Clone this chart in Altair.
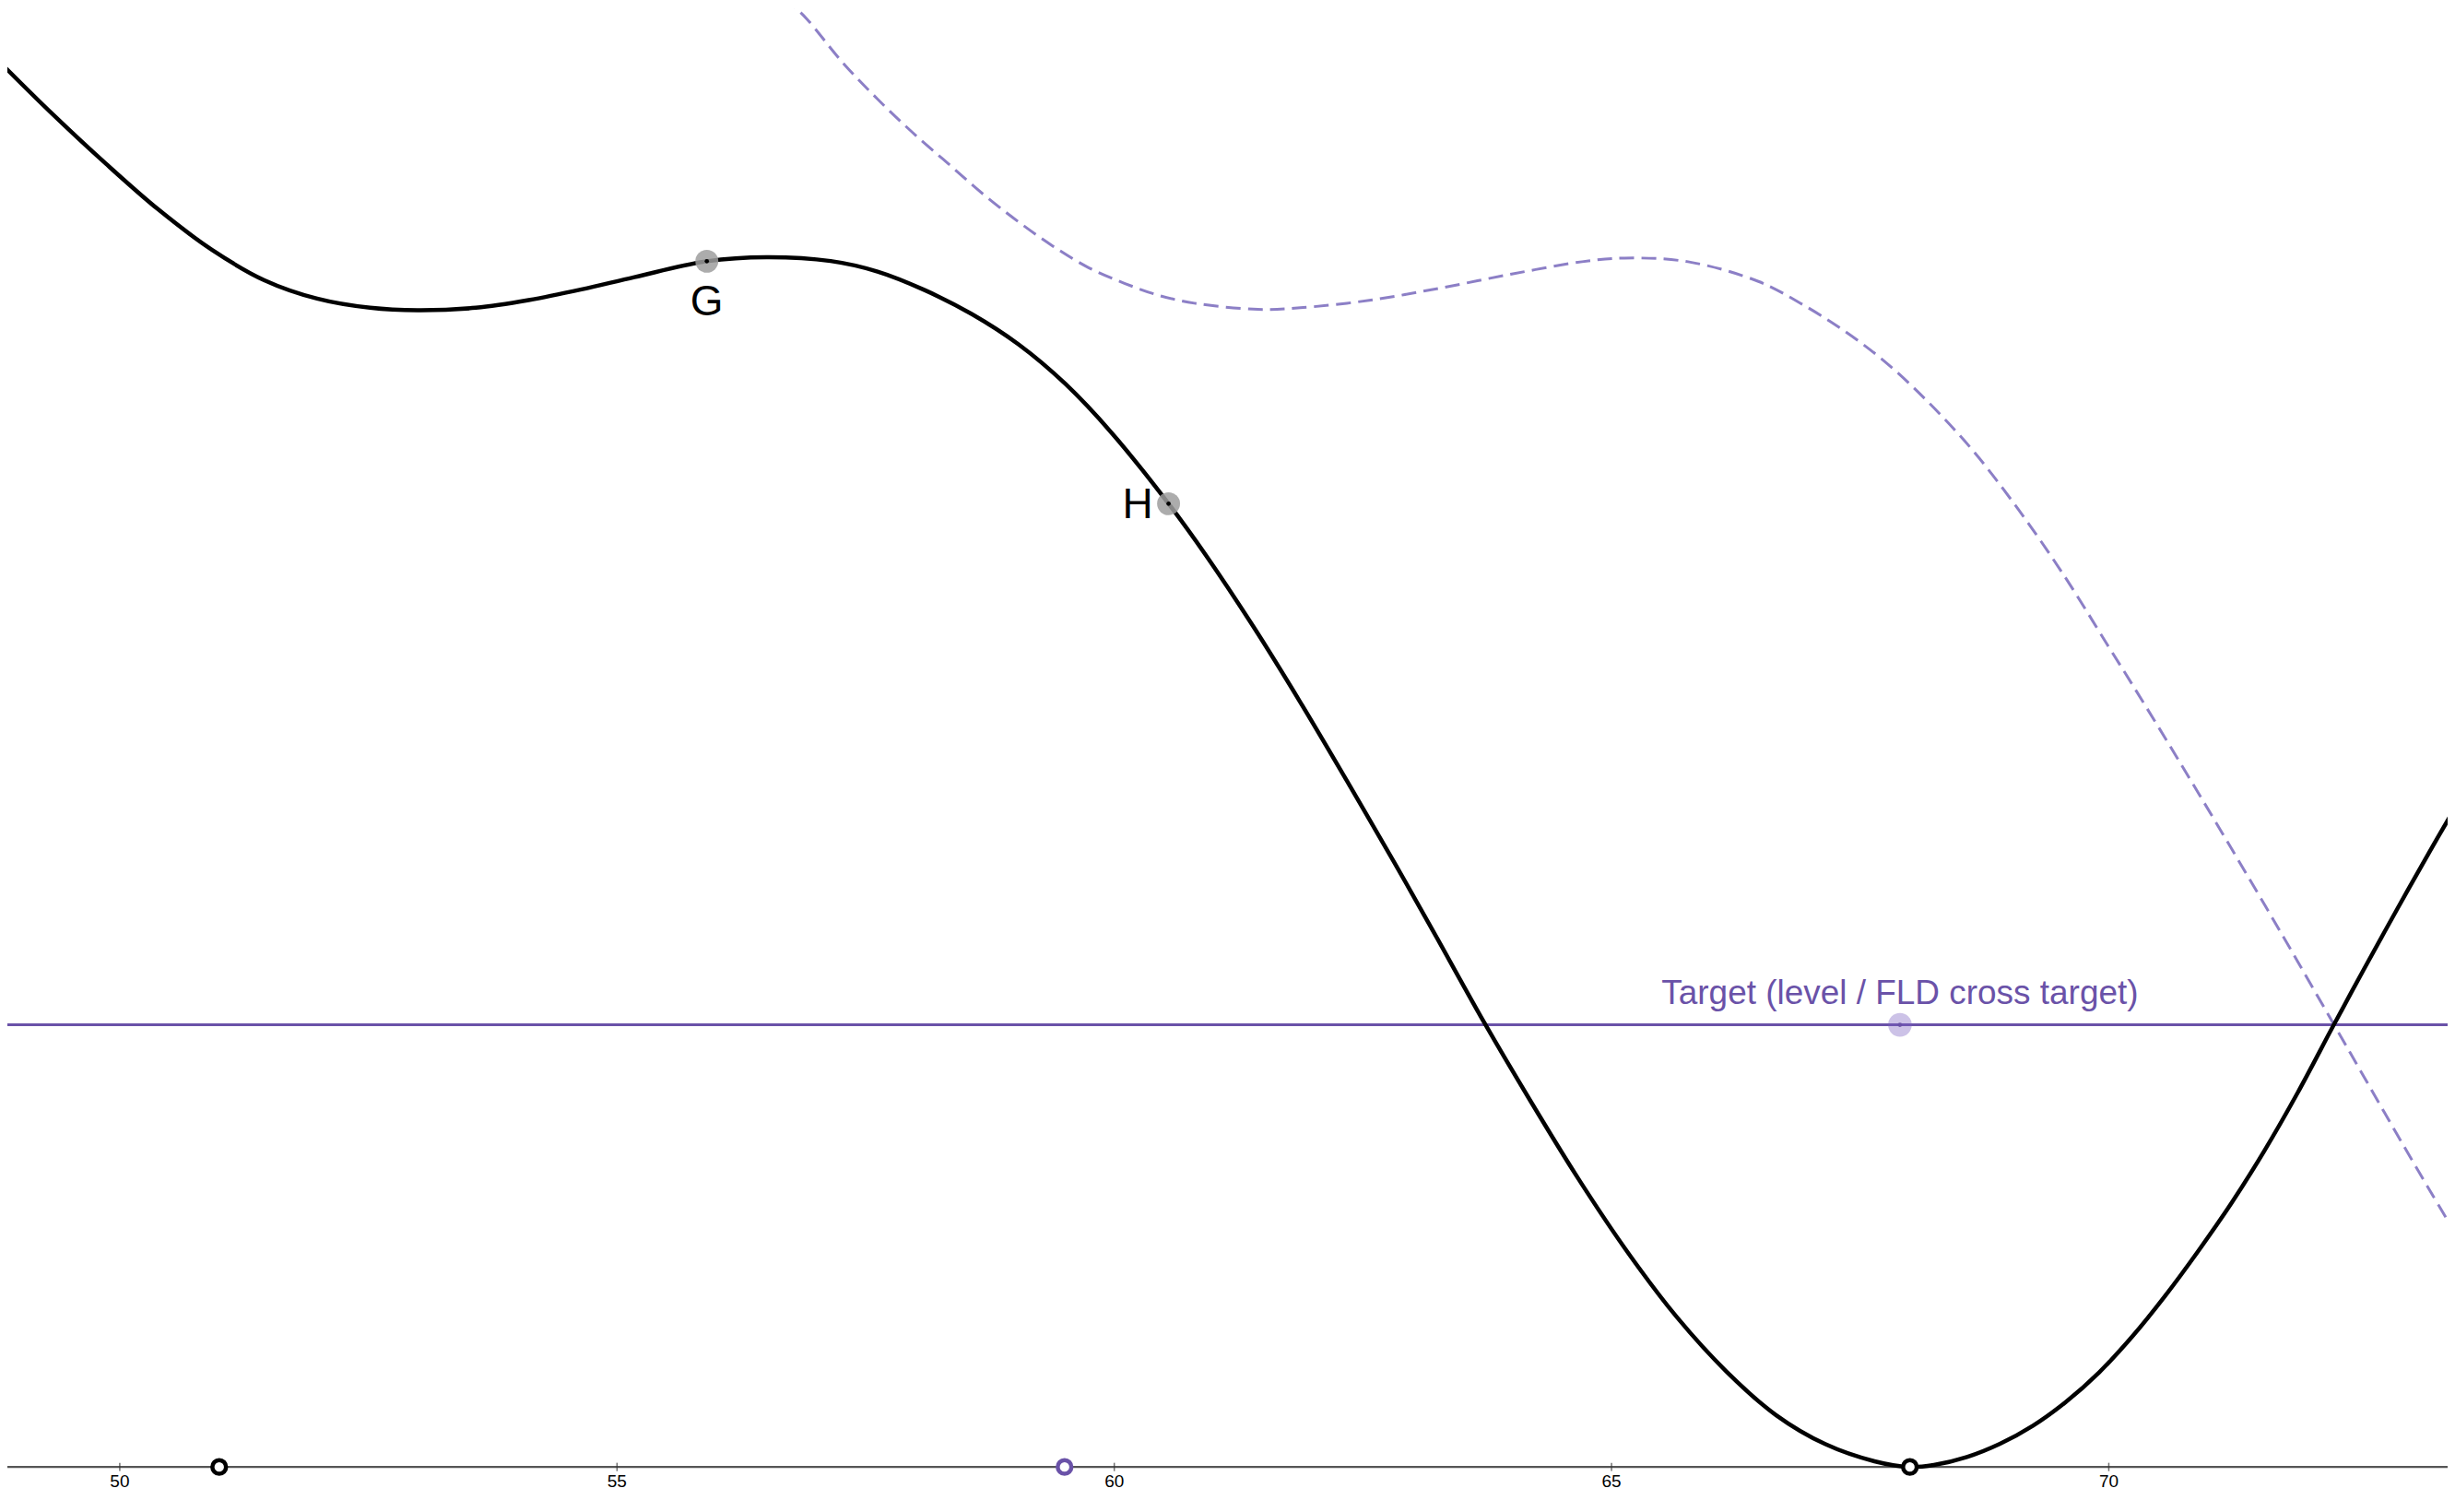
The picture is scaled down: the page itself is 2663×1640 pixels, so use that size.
import altair as alt
import pandas as pd

# ---- data ----
# price cycle curve (black)
price_x = [48.796, 49.328, 49.859, 50.389, 50.922, 51.454, 51.985, 52.517, 52.995, 53.580,
           54.111, 54.644, 55.175, 55.903, 56.504, 57.148, 57.620, 58.093, 58.565,
           59.037, 59.509, 59.981, 60.546, 60.926, 61.398, 61.870, 62.343, 62.815, 63.181,
           63.727, 64.173, 64.667, 65.167, 65.657, 66.157, 66.653, 67.148, 67.644, 67.991,
           68.241, 68.573, 68.906, 69.238, 69.570, 69.903, 70.235, 70.568, 70.901, 71.233,
           71.565, 71.898, 72.264, 72.563, 72.895, 73.228, 73.454]
price_y = [14.123, 13.599, 13.105, 12.642, 12.241, 11.932, 11.747, 11.655, 11.630, 11.655,
           11.732, 11.840, 11.963, 12.123, 12.164, 12.125, 12.019, 11.833, 11.593,
           11.287, 10.889, 10.389, 9.685, 9.160, 8.450, 7.690, 6.892, 6.079, 5.433,
           4.456, 3.700, 2.897, 2.152, 1.506, 0.958, 0.522, 0.230, 0.057, 0.000,
           0.020, 0.100, 0.233, 0.415, 0.655, 0.951, 1.310, 1.722, 2.173, 2.652,
           3.180, 3.760, 4.448, 5.000, 5.600, 6.190, 6.580]

# FLD curve (dashed purple)
fld_x = [56.574, 56.731, 56.912, 57.267, 57.620, 57.972, 58.329, 58.683, 59.037, 59.389,
         59.746, 60.102, 60.454, 60.806, 61.444, 61.870, 62.580, 63.287, 63.996, 64.704,
         65.130, 65.769, 66.477, 66.900, 67.315, 67.741, 68.191, 68.639, 69.093, 69.543,
         69.991, 70.235, 70.568, 70.901, 71.233, 71.565, 71.898, 72.264, 72.563, 72.895,
         73.228, 73.454]
fld_y = [14.972, 14.741, 14.556, 14.123, 13.753, 13.417, 13.105, 12.796, 12.519, 12.271,
         12.056, 11.901, 11.778, 11.701, 11.639, 11.655, 11.732, 11.855, 11.994, 12.118,
         12.155, 12.118, 11.920, 11.700, 11.440, 11.120, 10.700, 10.213, 9.624, 8.974,
         8.259, 7.869, 7.327, 6.775, 6.218, 5.655, 5.084, 4.448, 3.928, 3.350,
         2.780, 2.400]

tick_values = [50, 55, 60, 65, 70]

point_names = ["G", "H"]
point_x = [55.903, 60.546]
point_y = [12.123, 9.685]

target_level = 4.445
target_x = 67.90
target_label = "Target (level / FLD cross target)"

trough_x = [51.0, 68.0]        # black hollow markers on axis
fld_trough_x = [59.5]          # purple hollow marker on axis

# ---- styling ----
PURPLE = "#6a52a8"
LAVENDER = "#8c7fc6"
FONT = "Liberation Sans"

xs = alt.Scale(domain=[48.870, 73.407], nice=False, zero=False)
ys = alt.Scale(domain=[-0.287, 14.667], nice=False, zero=False)

price_df = pd.DataFrame({"x": price_x, "y": price_y})
fld_df = pd.DataFrame({"x": fld_x, "y": fld_y})
ticks_df = pd.DataFrame({"x": tick_values, "label": [str(v) for v in tick_values],
                         "z": [0.0] * len(tick_values)})
pts_df = pd.DataFrame({"name": point_names, "x": point_x, "y": point_y})
target_df = pd.DataFrame({"x": [target_x], "y": [target_level], "label": [target_label]})
troughs_df = pd.DataFrame({"x": trough_x, "y": [0.0] * len(trough_x)})
fld_troughs_df = pd.DataFrame({"x": fld_trough_x, "y": [0.0] * len(fld_trough_x)})


def X():
    return alt.X("x:Q", scale=xs, axis=None)


def Y(field="y:Q"):
    return alt.Y(field, scale=ys, axis=None)


axis_line = alt.Chart(pd.DataFrame({"v": [0.0]})).mark_rule(
    color="#555555", strokeWidth=2.5).encode(y=Y("v:Q"))

ticks = alt.Chart(ticks_df).mark_tick(
    orient="vertical", size=9, thickness=1.5, color="#333333"
).encode(x=X(), y=Y("z:Q"))

tick_labels = alt.Chart(ticks_df).mark_text(
    fontSize=19, font=FONT, color="#000000", baseline="alphabetic", align="center", dy=22
).encode(x=X(), y=Y("z:Q"), text="label:N")

target_rule = alt.Chart(target_df).mark_rule(color=PURPLE, strokeWidth=3).encode(y=Y())

fld_line = alt.Chart(fld_df).mark_line(
    color=LAVENDER, strokeWidth=3, strokeDash=[16, 8], interpolate="catmull-rom", clip=True
).encode(x=X(), y=Y(), order="x:Q")

price_line = alt.Chart(price_df).mark_line(
    color="#000000", strokeWidth=4.5, interpolate="catmull-rom", clip=True
).encode(x=X(), y=Y(), order="x:Q")

halo = alt.Chart(pts_df).mark_circle(size=620, color="#9e9e9e", opacity=0.85).encode(x=X(), y=Y())
dots = alt.Chart(pts_df).mark_circle(size=22, color="#000000", opacity=1).encode(x=X(), y=Y())

g_label = alt.Chart(pts_df).transform_filter(alt.datum.name == "G").mark_text(
    fontSize=46, font=FONT, color="#000000", align="center", baseline="alphabetic", dy=59
).encode(x=X(), y=Y(), text="name:N")
h_label = alt.Chart(pts_df).transform_filter(alt.datum.name == "H").mark_text(
    fontSize=46, font=FONT, color="#000000", align="right", baseline="alphabetic", dx=-17, dy=16
).encode(x=X(), y=Y(), text="name:N")

t_halo = alt.Chart(target_df).mark_circle(size=660, color="#7a5fc0", opacity=0.38).encode(x=X(), y=Y())
t_dot = alt.Chart(target_df).mark_circle(size=22, color=PURPLE, opacity=1).encode(x=X(), y=Y())
t_label = alt.Chart(target_df).mark_text(
    fontSize=37, font=FONT, color=PURPLE, align="center", baseline="alphabetic", dy=-23
).encode(x=X(), y=Y(), text="label:N")

troughs = alt.Chart(troughs_df).mark_point(
    shape="circle", filled=True, fill="#ffffff", stroke="#000000", strokeWidth=4.5, size=220, opacity=1
).encode(x=X(), y=Y())
fld_troughs = alt.Chart(fld_troughs_df).mark_point(
    shape="circle", filled=True, fill="#ffffff", stroke=PURPLE, strokeWidth=4.5, size=220, opacity=1
).encode(x=X(), y=Y())

chart = alt.layer(
    axis_line, ticks, tick_labels, target_rule, fld_line, price_line,
    halo, dots, g_label, h_label, t_halo, t_dot, t_label, troughs, fld_troughs
).properties(
    width=2650, height=1615, padding=0, autosize=alt.AutoSizeParams(type="none"),
    background="#ffffff"
).configure_view(stroke=None)

chart.save("out.html", embed_options={"renderer": "svg", "actions": False})
